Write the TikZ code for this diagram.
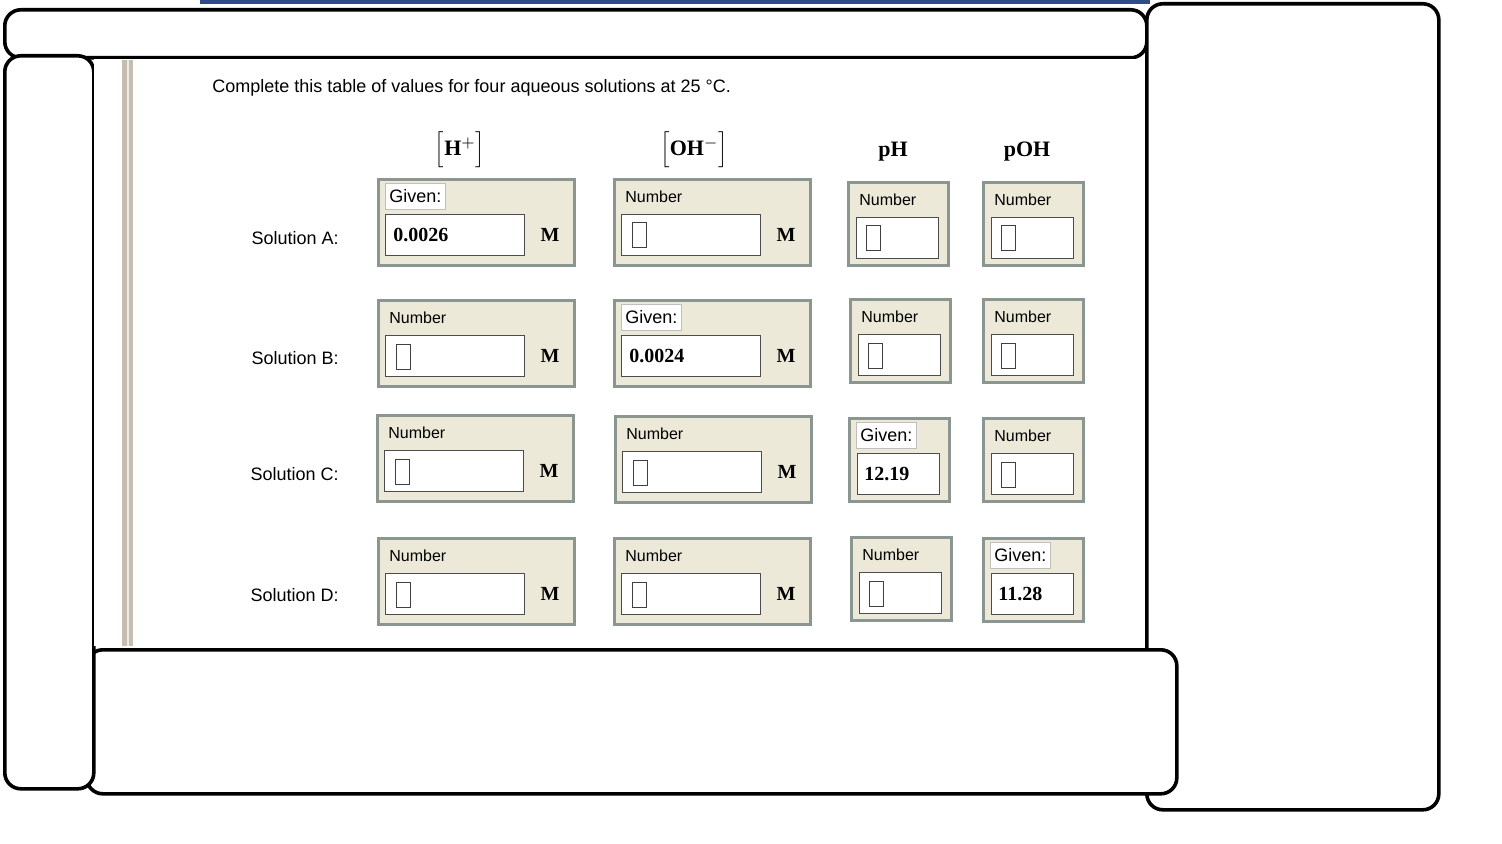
\documentclass[tikz,border=0pt]{standalone}
\usepackage{fontspec}
\setmainfont{Liberation Sans}
\newfontfamily\serifb{Liberation Serif}
\begin{document}
\begin{tikzpicture}[x=0.5pt,y=-0.5pt,
  panel/.style={draw=black,line width=1.8pt,rounded corners=8pt,fill=white},
  card/.style={draw=cardb,line width=1.5pt,fill=boxbg},
  inp/.style={draw=gray!60!black,line width=0.6pt,fill=white},
  cur/.style={draw=gray!50!black,line width=0.5pt},
  lab/.style={font=\fontsize{8}{9}\selectfont,anchor=west,inner sep=0},
  glab/.style={draw=gray!50,fill=white,font=\fontsize{9}{10}\selectfont,anchor=west,inner xsep=2pt,inner ysep=0pt,minimum height=26*0.5pt},
  val/.style={font=\serifb\bfseries\fontsize{10}{11}\selectfont,anchor=west,inner sep=0},
  unit/.style={font=\serifb\bfseries\fontsize{10}{11}\selectfont,inner sep=0},
  sol/.style={font=\fontsize{9}{10}\selectfont,anchor=east,inner sep=0},
  hdr/.style={font=\serifb\bfseries\fontsize{11}{12}\selectfont,inner sep=0}]
\definecolor{boxbg}{HTML}{ECE9D8}
\definecolor{cardb}{HTML}{8C9690}
\definecolor{barc}{HTML}{C4BDB0}
\definecolor{topb}{HTML}{2E4C8A}
\useasboundingbox (0,0) rectangle (1502,844);
\fill[white] (0,0) rectangle (1502,844);
\fill[topb] (200,0) rectangle (1150,4);
% panels
\node[panel,minimum width=1142*0.5pt,minimum height=48*0.5pt,anchor=north west,inner sep=0] (top) at (3,8) {};
\node[panel,minimum width=292*0.5pt,minimum height=806*0.5pt,anchor=north west,inner sep=0] (right) at (1145,2) {};
\node[panel,minimum width=1090*0.5pt,minimum height=144*0.5pt,anchor=north west,inner sep=0] (bottom) at (85,648) {};
\node[panel,minimum width=89*0.5pt,minimum height=733*0.5pt,anchor=north west,inner sep=0] (left) at (3,54) {};
\fill[white] (94,59) rectangle (1143,646);
\fill[barc] (122,60) rectangle (133,646);
\draw[white!70!barc,line width=0.8pt] (128,60) -- (128,646);
\node[font=\fontsize{9}{10}\selectfont,anchor=west,inner sep=0] (title) at (212,88) {Complete this table of values for four aqueous solutions at 25 °C.};
% headers
\node[hdr] (hH) at (460,150) {$\left[\vphantom{\Big|}\textbf{H}^{+}\right]$};
\node[hdr] (hOH) at (694,150) {$\left[\vphantom{\Big|}\textbf{OH}^{-}\right]$};
\node[hdr] (hpH) at (893,152) {pH};
\node[hdr] (hpOH) at (1027,152) {pOH};
\newcommand{\wbox}[5]{% name x y given? value
  \node[card,minimum width=196*0.5pt,minimum height=86*0.5pt,anchor=north west,inner sep=0] (#1) at (#2,#3) {};
  \node[inp,minimum width=139*0.5pt,minimum height=41*0.5pt,anchor=north west,inner sep=0] (#1i) at (#2+8,#3+36) {};
  \node[unit] (#1u) at (#2+173,#3+57) {M};
  \ifx#4g
    \node[glab] (#1l) at (#2+8,#3+18) {Given:};
    \node[val] (#1v) at (#2+16,#3+57) {#5};
  \else
    \node[lab] (#1l) at (#2+12,#3+19) {Number};
    \draw[cur] (#2+19,#3+45) rectangle (#2+33,#3+70);
  \fi}
\newcommand{\smbox}[5]{%
  \node[card,minimum width=100*0.5pt,minimum height=83*0.5pt,anchor=north west,inner sep=0] (#1) at (#2,#3) {};
  \node[inp,minimum width=82*0.5pt,minimum height=41*0.5pt,anchor=north west,inner sep=0] (#1i) at (#2+9,#3+36) {};
  \ifx#4g
    \node[glab] (#1l) at (#2+8,#3+18) {Given:};
    \node[val] (#1v) at (#2+16,#3+57) {#5};
  \else
    \node[lab] (#1l) at (#2+12,#3+19) {Number};
    \draw[cur] (#2+19,#3+45) rectangle (#2+33,#3+70);
  \fi}
% Row A
\node[sol] (sA) at (339,238) {Solution A:};
\wbox{aH}{377}{178}{g}{0.0026}
\wbox{aOH}{613}{178}{n}{}
\smbox{apH}{847}{181}{n}{}
\smbox{apOH}{982}{181}{n}{}
% Row B
\node[sol] (sB) at (339,358) {Solution B:};
\wbox{bH}{377}{299}{n}{}
\wbox{bOH}{613}{299}{g}{0.0024}
\smbox{bpH}{849}{298}{n}{}
\smbox{bpOH}{982}{298}{n}{}
% Row C
\node[sol] (sC) at (339,474) {Solution C:};
\wbox{cH}{376}{414}{n}{}
\wbox{cOH}{614}{415}{n}{}
\smbox{cpH}{848}{417}{g}{12.19}
\smbox{cpOH}{982}{417}{n}{}
% Row D
\node[sol] (sD) at (339,595) {Solution D:};
\wbox{dH}{377}{537}{n}{}
\wbox{dOH}{613}{537}{n}{}
\smbox{dpH}{850}{536}{n}{}
\smbox{dpOH}{982}{537}{g}{11.28}
\end{tikzpicture}
\end{document}
